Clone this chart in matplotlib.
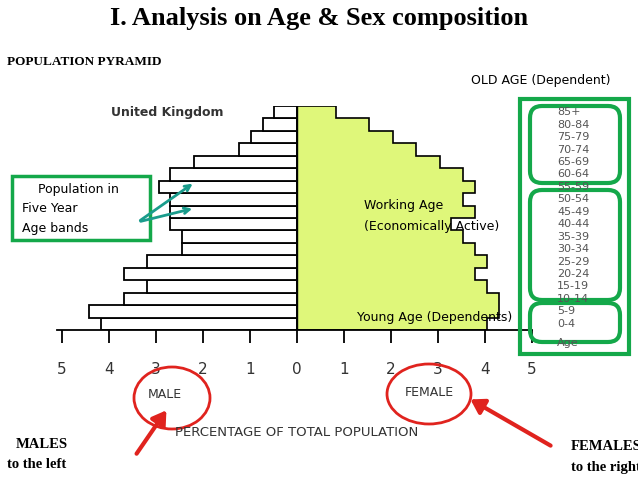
import matplotlib.pyplot as plt
from matplotlib.patches import Rectangle, FancyBboxPatch, Ellipse

ages = ['0-4', '5-9', '10-14', '15-19', '20-24', '25-29', '30-34', '35-39', '40-44',
        '45-49', '50-54', '55-59', '60-64', '65-69', '70-74', '75-79', '80-84', '85+']
male = [4.18, 4.43, 3.69, 3.19, 3.69, 3.19, 2.45, 2.45, 2.7,
        2.7, 2.7, 2.94, 2.7, 2.2, 1.23, 0.97, 0.72, 0.48]
female = [4.04, 4.29, 4.29, 4.04, 3.78, 4.04, 3.78, 3.53, 3.28,
          3.78, 3.53, 3.78, 3.53, 3.04, 2.54, 2.04, 1.53, 0.82]
ticks = [-5, -4, -3, -2, -1, 0, 1, 2, 3, 4, 5]

W, H = 638, 479
fig = plt.figure(figsize=(W / 100, H / 100), dpi=100)

# pyramid axes: x=0 at px 297, 47 px per unit; rows from y=106 to y=330
left = 297 - 5.1 * 47
ax = fig.add_axes([left / W, 1 - 330 / H, 10.1 * 47 / W, (330 - 106) / H])
ax.set_xlim(-5.1, 5.0)
ax.set_ylim(0, 18)
y = list(range(18))
ax.barh([v + 0.5 for v in y], [-m for m in male], height=1, color='white',
        edgecolor='black', linewidth=1.3)
# female side as a filled step outline
xs, ys = [0], [0]
for i, f in enumerate(female):
    xs += [f, f]
    ys += [i, i + 1]
xs += [0]
ys += [18]
ax.fill(xs, ys, color='#dff77a', edgecolor='black', linewidth=1.2)
ax.plot([0, 0], [0, 18], color='black', lw=1)
for s in ['top', 'right', 'left']:
    ax.spines[s].set_visible(False)
ax.spines['bottom'].set_linewidth(1.3)
ax.set_yticks([])
ax.set_xticks(ticks)
ax.set_xticklabels([str(abs(t)) for t in ticks], fontsize=11, color='#333333')
ax.tick_params(axis='x', direction='out', length=9, width=1.3, pad=14)
ax.text(-3.95, 17.2, 'United Kingdom', fontsize=9, fontweight='bold', color='#333333')

# overlay in pixel coordinates
ov = fig.add_axes([0, 0, 1, 1], facecolor='none')
ov.set_xlim(0, W)
ov.set_ylim(H, 0)
ov.axis('off')
green = '#14a84a'
red = '#e0231e'
ov.text(319, 18, 'I. Analysis on Age & Sex composition', ha='center', va='center',
        fontsize=19, fontweight='bold', family='Liberation Serif')
ov.text(7, 62, 'POPULATION PYRAMID', fontsize=9.5, fontweight='bold', family='Liberation Serif', va='center')
ov.text(471, 80, 'OLD AGE (Dependent)', fontsize=9, va='center')
ov.text(364, 206, 'Working Age', fontsize=9, va='center')
ov.text(364, 226, '(Economically Active)', fontsize=9, va='center')
ov.text(357, 317, 'Young Age (Dependents)', fontsize=9, va='center')

ov.add_patch(Rectangle((12, 176), 138, 64, fill=False, ec=green, lw=2.5))
ov.text(38, 190, 'Population in', fontsize=9, va='center')
ov.text(22, 209, 'Five Year', fontsize=9, va='center')
ov.text(22, 228, 'Age bands', fontsize=9, va='center')
for tx, ty in [(195, 182), (195, 208)]:
    ov.annotate('', xy=(tx, ty), xytext=(138, 222),
                arrowprops=dict(arrowstyle='->', color='#1a9c8c', lw=2))

ov.add_patch(Rectangle((520, 99), 109, 255, fill=False, ec=green, lw=3))
for y0, y1 in [(106, 183), (190, 300), (303, 342)]:
    ov.add_patch(FancyBboxPatch((530, y0), 90, y1 - y0, boxstyle='round,pad=0,rounding_size=12',
                                fill=False, ec=green, lw=3))
row_h = (330 - 106) / 18
for i, a in enumerate(ages):
    ov.text(557, 330 - (i + 0.5) * row_h, a, fontsize=8, color='#555555', va='center')
ov.text(557, 343, 'Age', fontsize=8, color='#555555', va='center')

ov.text(165, 394, 'MALE', fontsize=9, color='#333333', ha='center', va='center')
ov.text(429, 392, 'FEMALE', fontsize=9, color='#333333', ha='center', va='center')
ov.text(297, 433, 'PERCENTAGE OF TOTAL POPULATION', fontsize=9.5, color='#333333', ha='center', va='center')
ov.add_patch(Ellipse((172, 398), 76, 62, fill=False, ec=red, lw=2))
ov.add_patch(Ellipse((429, 394), 84, 60, fill=False, ec=red, lw=2))
ov.annotate('', xy=(168, 408), xytext=(135, 456),
            arrowprops=dict(arrowstyle='-|>,head_width=0.5,head_length=0.8', color=red, lw=3))
ov.annotate('', xy=(468, 398), xytext=(553, 447),
            arrowprops=dict(arrowstyle='-|>,head_width=0.5,head_length=0.8', color=red, lw=3))
ov.text(42, 445, 'MALES', fontsize=10.5, fontweight='bold', family='Liberation Serif', ha='center', va='center')
ov.text(7, 465, 'to the left', fontsize=10.5, fontweight='bold', family='Liberation Serif', va='center')
ov.text(571, 447, 'FEMALES', fontsize=10.5, fontweight='bold', family='Liberation Serif', va='center')
ov.text(571, 467, 'to the right', fontsize=10.5, fontweight='bold', family='Liberation Serif', va='center')

fig.savefig('out.png', dpi=100)
